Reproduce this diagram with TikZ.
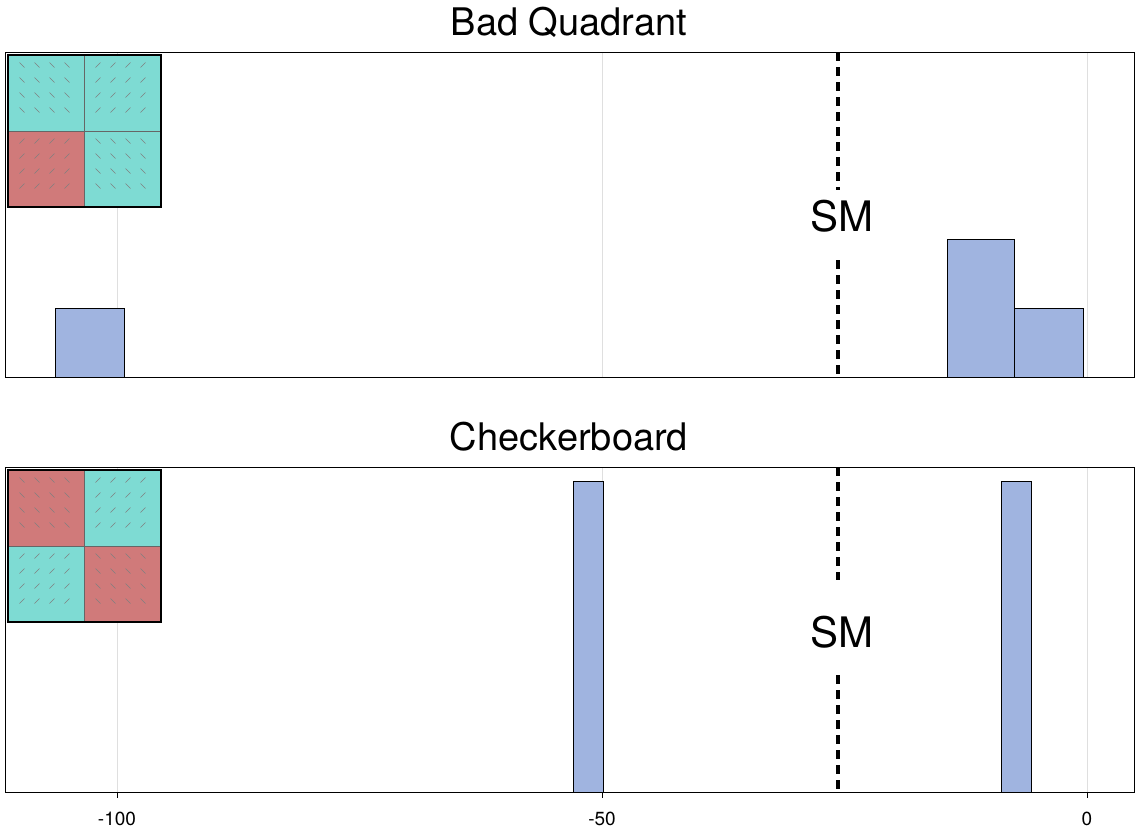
\documentclass[tikz,border=0pt]{standalone}
\usepackage{fontspec}
\setmainfont{TeX Gyre Heros}
\begin{document}
\begin{tikzpicture}[x=1pt,y=-1pt,
  bar/.style={draw=black,fill=barblue,line width=0.8pt},
  frame/.style={draw=black,line width=1pt},
  grid/.style={draw=gray!25,line width=0.6pt},
  smline/.style={draw=black,line width=3.2pt,dash pattern=on 9pt off 6pt},
  ttl/.style={font=\fontsize{38}{42}\selectfont},
  sm/.style={font=\fontsize{42}{46}\selectfont},
  tick/.style={font=\fontsize{19}{22}\selectfont},
  vec/.style={draw=black!50,line width=0.4pt}]
\definecolor{barblue}{HTML}{A0B4E0}
\definecolor{teal}{HTML}{7EDBD3}
\definecolor{redq}{HTML}{D07A7A}
\path[use as bounding box] (0,0) rectangle (1137,830);
% grids
\foreach \x in {117,602,1087}{
  \draw[grid] (\x,52) -- (\x,377);
  \draw[grid] (\x,467) -- (\x,792);}
% panel 1
\node[ttl] (t1) at (569,22) {Bad Quadrant};
\draw[bar] (55,308) rectangle (124,377);
\draw[bar] (947,239) rectangle (1014,377);
\draw[bar] (1014,308) rectangle (1083,377);
\node[sm] (sm1) at (842,216) {SM};
\draw[smline] (838,52) -- (838,190);
\draw[smline] (838,260) -- (838,377);
\draw[frame] (5,52) rectangle (1134,377);
% inset 1
\fill[teal] (8,55) rectangle (84,131);
\fill[teal] (84,55) rectangle (161,131);
\fill[redq] (8,131) rectangle (84,207);
\fill[teal] (84,131) rectangle (161,207);
\draw[black!60,line width=0.5pt] (84,55) -- (84,207) (8,131) -- (161,131);
\foreach \i in {0,...,3}{\foreach \j in {0,...,3}{
  \draw[vec] (22+\i*15-2.5,65+\j*15-2.5) -- ++(5,5);
  \draw[vec] (98+\i*15-2.5,65+\j*15+2.5) -- ++(5,-5);
  \draw[vec] (22+\i*15-2.5,141+\j*15+2.5) -- ++(5,-5);
  \draw[vec] (98+\i*15-2.5,141+\j*15-2.5) -- ++(5,5);}}
\draw[black,line width=1.2pt] (8,55) rectangle (161,207);
% panel 2
\node[ttl] (t2) at (569,437) {Checkerboard};
\draw[bar] (573,481) rectangle (603,792);
\draw[bar] (1001,481) rectangle (1031,792);
\node[sm] (sm2) at (842,632) {SM};
\draw[smline] (838,467) -- (838,580);
\draw[smline] (838,675) -- (838,792);
\draw[frame] (5,467) rectangle (1134,792);
% inset 2
\fill[redq] (8,470) rectangle (84,546);
\fill[teal] (84,470) rectangle (161,546);
\fill[teal] (8,546) rectangle (84,622);
\fill[redq] (84,546) rectangle (161,622);
\draw[black!60,line width=0.5pt] (84,470) -- (84,622) (8,546) -- (161,546);
\foreach \i in {0,...,3}{\foreach \j in {0,...,3}{
  \draw[vec] (22+\i*15-2.5,480+\j*15-2.5) -- ++(5,5);
  \draw[vec] (98+\i*15-2.5,480+\j*15+2.5) -- ++(5,-5);
  \draw[vec] (22+\i*15-2.5,556+\j*15+2.5) -- ++(5,-5);
  \draw[vec] (98+\i*15-2.5,556+\j*15-2.5) -- ++(5,5);}}
\draw[black,line width=1.2pt] (8,470) rectangle (161,622);
% ticks
\foreach \x/\l in {117/-100,602/-50,1087/0}{
  \draw[black,line width=0.8pt] (\x,792) -- (\x,798);
  \node[tick] (tk\l) at (\x,819) {\l};}
\end{tikzpicture}
\end{document}
